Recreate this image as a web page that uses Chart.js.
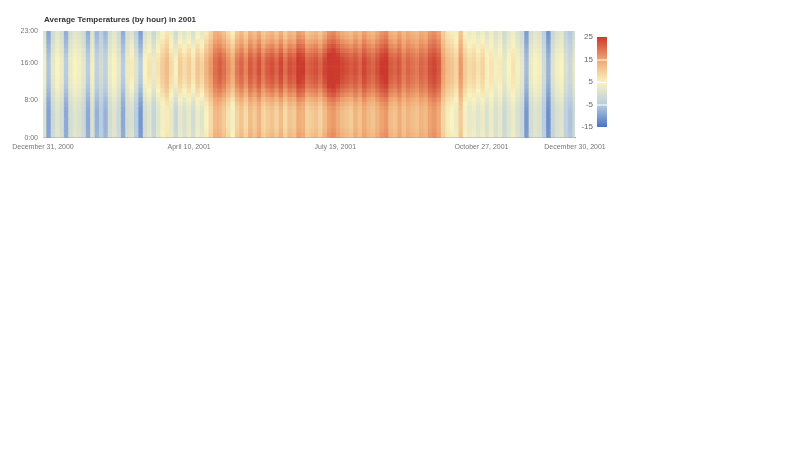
<!DOCTYPE html><html><head><meta charset="utf-8">
<script src="https://cdn.jsdelivr.net/npm/chart.js@4"></script>
<style>html,body{margin:0;background:#fff}#w{width:800px;height:450px}</style></head><body><div id="w"><canvas id="c"></canvas></div>
<script>
const title = "Average Temperatures (by hour) in 2001";
// daily mean temperature, one value per 3-day block
const blockMeans = [2,-8,0,3,1,-7,1,3,2,0,-7,2,-6,-3,-6,1,3,0,-7,1,3,-2,-8,2,4,0,4,7,9,5,1,6,4,6,3,7,5,9,12,16,17,15,12,9,14,16,13,17,15,18,14,16,17,15,18,14,17,16,20,19,15,16,17,15,18,21,22,20,18,17,16,18,16,19,17,16,18,20,21,17,16,18,15,17,16,15,17,16,19,20,18,12,9,8,6,13,7,5,6,4,6,3,5,2,4,0,3,5,2,0,-9,1,3,2,-3,-10,-1,2,3,-2,-4,0];
// diurnal swing per month (°C)
const monthAmp = [2,2,3,4,5,6,6,5,4,3,2,2];
// relative hourly profile, hours 0..23
const hourProfile = [-0.8,-0.9,-1,-1,-1,-1,-0.9,-0.7,-0.4,0,0.3,0.6,0.8,0.9,1,1,1,0.9,0.7,0.4,0.1,-0.2,-0.5,-0.7];
const xTickLabels = {0:"December 31, 2000",100:"April 10, 2001",200:"July 19, 2001",300:"October 27, 2001",364:"December 30, 2001"};
const yTickLabels = {0:"0:00",8:"8:00",16:"16:00",23:"23:00"};
const legendTicks = [25,15,5,-5,-15];

const stops=[[-15,[74,116,196]],[-5,[185,205,224]],[5,[249,243,192]],[15,[239,164,112]],[25,[204,58,45]]];
function col(v){v=Math.max(-15,Math.min(25,v));for(let i=0;i<stops.length-1;i++){const[a,ca]=stops[i],[b,cb]=stops[i+1];if(v<=b){const t=(v-a)/(b-a);return 'rgb('+ca.map((c,k)=>Math.round(c+(cb[k]-c)*t)).join(',')+')';}}}
const days=[];for(let d=0;d<365;d++)days.push(d);
const dailyMean=days.map(d=>blockMeans[Math.floor(d/3)]);
const monthOf=d=>new Date(2001,0,d).getMonth();
const datasets=hourProfile.map((p,h)=>({data:days.map(()=>23/24),backgroundColor:days.map(d=>col(dailyMean[d]+monthAmp[monthOf(d)]*p)),borderWidth:0,barPercentage:1,categoryPercentage:1}));
const F='"Liberation Sans",Arial';
const cbar={id:'cbar',afterDraw(ch){const g=ch.ctx,x=597,y0=37,y1=127,w=10;g.save();g.fillStyle='#333';g.font='bold 8px '+F;g.textAlign='left';g.textBaseline='middle';g.fillText(title,44,20);
const gr=g.createLinearGradient(0,y0,0,y1);stops.slice().reverse().forEach((s,i)=>gr.addColorStop(i/4,'rgb('+s[1].join(',')+')'));g.fillStyle=gr;g.fillRect(x,y0,w,y1-y0);g.fillStyle='#666';g.font='8px '+F;g.textAlign='right';legendTicks.forEach((t,i)=>{const yy=y0+i*(y1-y0)/4;g.fillText(String(t),593,yy);if(i>0&&i<4){g.strokeStyle='#fff';g.beginPath();g.moveTo(x,yy+0.5);g.lineTo(x+w,yy+0.5);g.stroke();}});g.restore();}};
new Chart(document.getElementById('c'),{type:'bar',data:{labels:days,datasets},plugins:[cbar],options:{animation:false,responsive:true,maintainAspectRatio:false,devicePixelRatio:1,
layout:{padding:{left:0,right:225,top:31,bottom:298}},
plugins:{legend:{display:false},tooltip:{enabled:false},title:{display:false}},
scales:{x:{stacked:true,offset:false,grid:{display:false,drawTicks:true,tickLength:4},border:{color:'#999'},afterBuildTicks(s){s.ticks=Object.keys(xTickLabels).map(k=>({value:+k}));},ticks:{autoSkip:false,maxRotation:0,padding:1,color:'#777',font:{size:7,family:F},callback:v=>xTickLabels[v]}},
y:{stacked:true,min:0,max:23,afterFit(s){s.width=43;},grid:{display:false,tickLength:4},border:{color:'#999'},afterBuildTicks(s){s.ticks=Object.keys(yTickLabels).map(k=>({value:+k}));},ticks:{color:'#777',padding:1,font:{size:7,family:F},callback:v=>yTickLabels[v]}}}}});
</script></body></html>
